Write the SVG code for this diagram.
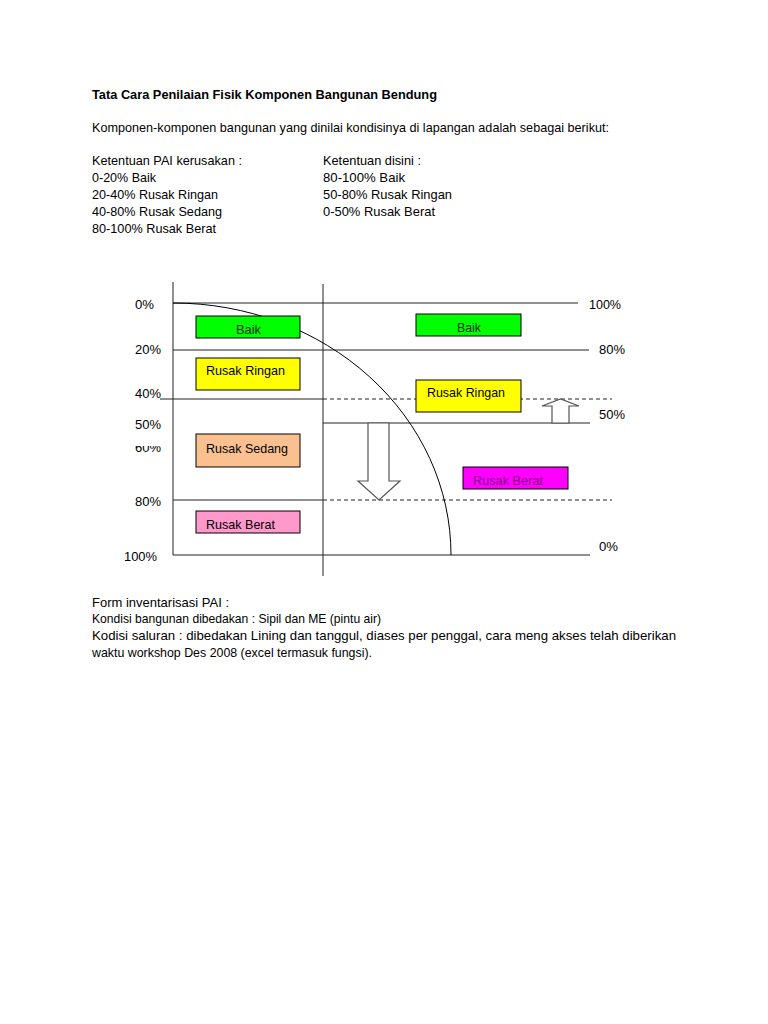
<svg xmlns="http://www.w3.org/2000/svg" width="768" height="1024" viewBox="0 0 768 1024">
<style>
text{font-family:"Liberation Sans",Arial,sans-serif;font-size:13.5px;fill:#000}
.b{font-weight:bold;font-size:13px}
.ln{stroke:#222;stroke-width:1;fill:none}
.dash{stroke:#222;stroke-width:1;stroke-dasharray:4 3;fill:none}
.box{stroke:#000;stroke-width:1}
.arr{fill:#fff;stroke:#555;stroke-width:1.2}
</style>
<defs>
<clipPath id="c60"><rect x="120" y="446" width="50" height="12"/></clipPath>
</defs>
<rect width="768" height="1024" fill="#fff"/>
<g id="header">
<text class="b" x="92" y="99" textLength="345" lengthAdjust="spacingAndGlyphs">Tata Cara Penilaian Fisik Komponen Bangunan Bendung</text>
<text x="92" y="132" textLength="517" lengthAdjust="spacingAndGlyphs">Komponen-komponen bangunan yang dinilai kondisinya di lapangan adalah sebagai berikut:</text>
<text x="92" y="165" textLength="150" lengthAdjust="spacingAndGlyphs">Ketentuan PAI kerusakan :</text>
<text x="92" y="182" textLength="64" lengthAdjust="spacingAndGlyphs">0-20% Baik</text>
<text x="92" y="199" textLength="126" lengthAdjust="spacingAndGlyphs">20-40% Rusak Ringan</text>
<text x="92" y="216" textLength="130" lengthAdjust="spacingAndGlyphs">40-80% Rusak Sedang</text>
<text x="92" y="233" textLength="124" lengthAdjust="spacingAndGlyphs">80-100% Rusak Berat</text>
<text x="323" y="165" textLength="98" lengthAdjust="spacingAndGlyphs">Ketentuan disini :</text>
<text x="323" y="182" textLength="82" lengthAdjust="spacingAndGlyphs">80-100% Baik</text>
<text x="323" y="199" textLength="129" lengthAdjust="spacingAndGlyphs">50-80% Rusak Ringan</text>
<text x="323" y="216" textLength="112" lengthAdjust="spacingAndGlyphs">0-50% Rusak Berat</text>
</g>
<g id="connectors">
<line class="ln" x1="173" y1="282" x2="173" y2="555"/>
<line class="ln" x1="323" y1="284" x2="323" y2="576"/>
<line class="ln" x1="173" y1="303" x2="578" y2="303"/>
<line class="ln" x1="173" y1="350" x2="589" y2="350"/>
<line class="ln" x1="160" y1="399" x2="323" y2="399"/>
<line class="dash" x1="323" y1="399" x2="612" y2="399"/>
<line class="ln" x1="323" y1="423" x2="590" y2="423"/>
<line class="ln" x1="173" y1="500" x2="323" y2="500"/>
<line class="dash" x1="323" y1="500" x2="612" y2="500"/>
<line class="ln" x1="173" y1="555" x2="590" y2="555"/>
<path d="M173,303 A278,252 0 0 1 451,555" fill="none" stroke="#000" stroke-width="1"/>
<path class="arr" d="M552,423 L552,406 L542,406 L560.5,399 L579,406 L569,406 L569,423 Z"/>
<path class="arr" d="M368,423 L368,481 L358,481 L379,500 L400,481 L389,481 L389,423 Z"/>
</g>
<g id="axis-labels">
<text x="135" y="309" textLength="19" lengthAdjust="spacingAndGlyphs">0%</text>
<text x="135" y="354" textLength="26" lengthAdjust="spacingAndGlyphs">20%</text>
<text x="135" y="398" textLength="26" lengthAdjust="spacingAndGlyphs">40%</text>
<text x="135" y="429" textLength="26" lengthAdjust="spacingAndGlyphs">50%</text>
<text x="135" y="452" textLength="26" lengthAdjust="spacingAndGlyphs" clip-path="url(#c60)">60%</text>
<text x="135" y="506" textLength="26" lengthAdjust="spacingAndGlyphs">80%</text>
<text x="124" y="561" textLength="33" lengthAdjust="spacingAndGlyphs">100%</text>
<text x="589" y="309" textLength="32" lengthAdjust="spacingAndGlyphs">100%</text>
<text x="599" y="354" textLength="26" lengthAdjust="spacingAndGlyphs">80%</text>
<text x="599" y="419" textLength="26" lengthAdjust="spacingAndGlyphs">50%</text>
<text x="599" y="551" textLength="19" lengthAdjust="spacingAndGlyphs">0%</text>
</g>
<g id="pai-baik"><rect class="box" x="196" y="316" width="104" height="22" fill="#00ff00"/><text x="236" y="334" textLength="25" lengthAdjust="spacingAndGlyphs" style="fill:#0a2a0a">Baik</text></g>
<g id="pai-rusak-ringan"><rect class="box" x="196" y="358" width="104" height="32" fill="#ffff00"/><text x="206" y="375" textLength="79" lengthAdjust="spacingAndGlyphs">Rusak Ringan</text></g>
<g id="pai-rusak-sedang"><rect class="box" x="196" y="434" width="104" height="33" fill="#fac090"/><text x="206" y="453" textLength="82" lengthAdjust="spacingAndGlyphs">Rusak Sedang</text></g>
<g id="pai-rusak-berat"><rect class="box" x="196" y="511" width="104" height="22" fill="#ff99cc"/><text x="206" y="529" textLength="69" lengthAdjust="spacingAndGlyphs">Rusak Berat</text></g>
<g id="disini-baik"><rect class="box" x="416" y="314" width="105" height="22" fill="#00ff00"/><text x="457" y="332" textLength="24" lengthAdjust="spacingAndGlyphs" style="fill:#0a2a0a">Baik</text></g>
<g id="disini-rusak-ringan"><rect class="box" x="416" y="380" width="105" height="32" fill="#ffff00"/><text x="427" y="397" textLength="78" lengthAdjust="spacingAndGlyphs">Rusak Ringan</text></g>
<g id="disini-rusak-berat"><rect class="box" x="463" y="467" width="105" height="22" fill="#ff00ff"/><text x="473" y="485" textLength="70" lengthAdjust="spacingAndGlyphs" style="fill:#800080">Rusak Berat</text></g>
<g id="footer">
<text x="92" y="607" textLength="137" lengthAdjust="spacingAndGlyphs">Form inventarisasi PAI :</text>
<text x="92" y="623" textLength="289" lengthAdjust="spacingAndGlyphs">Kondisi bangunan dibedakan : Sipil dan ME (pintu air)</text>
<text x="92" y="640" textLength="584" lengthAdjust="spacingAndGlyphs">Kodisi saluran : dibedakan Lining dan tanggul, diases per penggal, cara meng akses telah diberikan</text>
<text x="92" y="657" textLength="280" lengthAdjust="spacingAndGlyphs">waktu workshop Des 2008 (excel termasuk fungsi).</text>
</g>
</svg>
